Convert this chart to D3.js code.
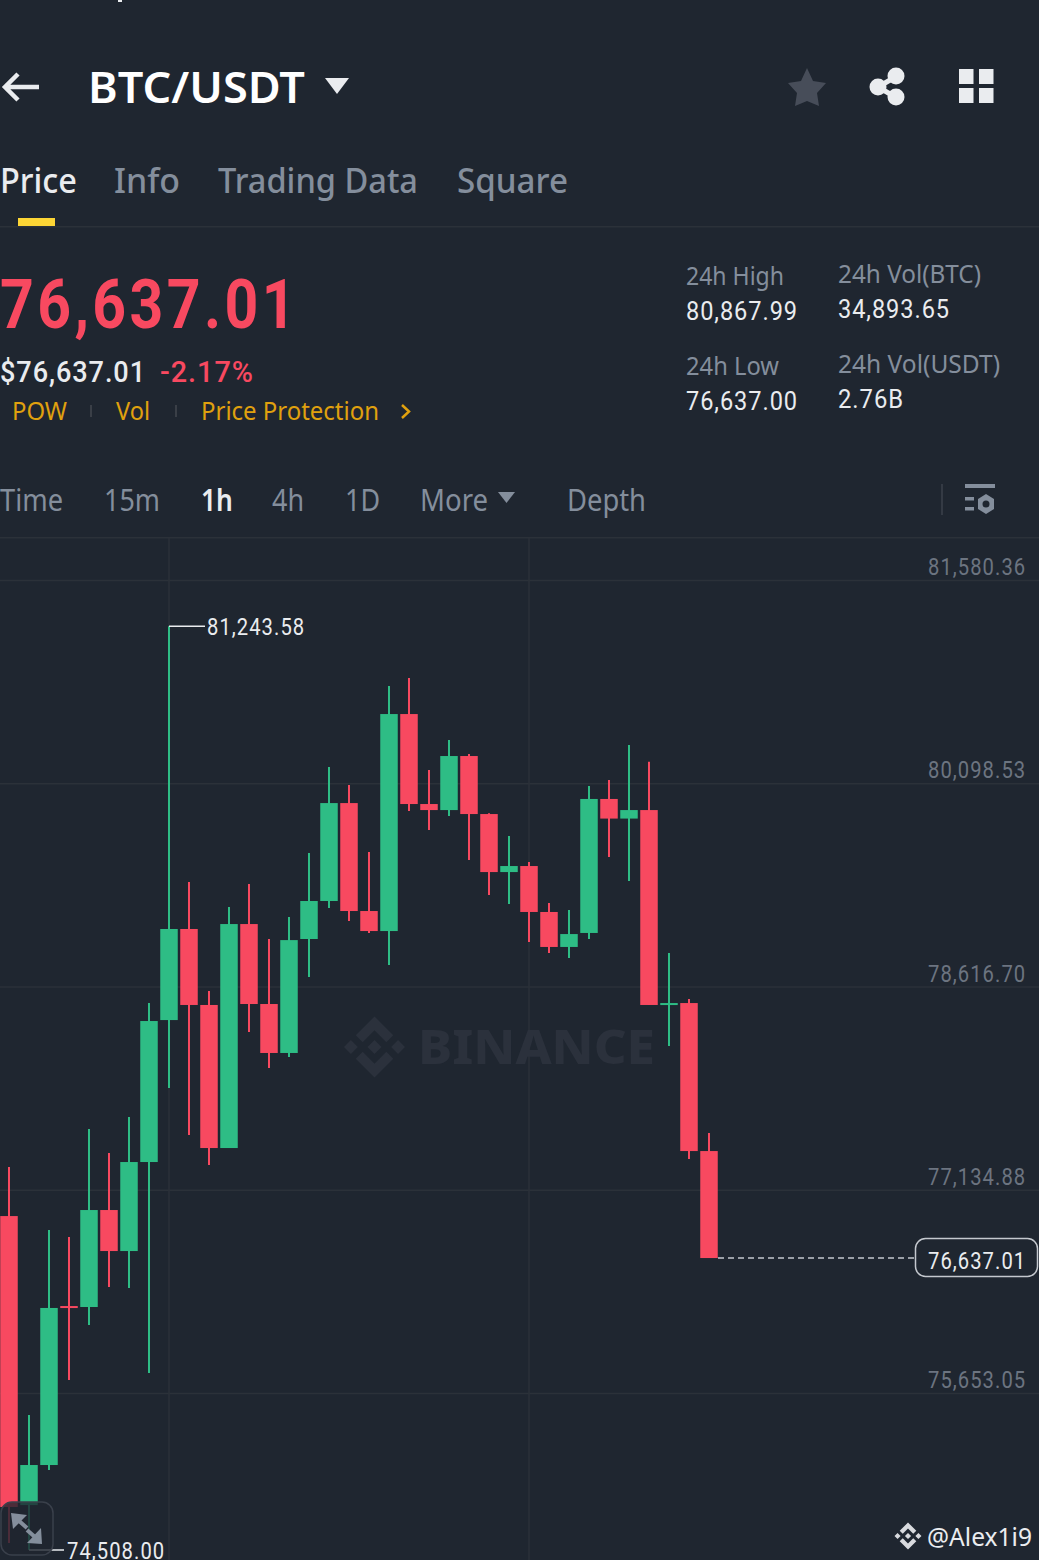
<!DOCTYPE html>
<html>
<head>
<meta charset="utf-8">
<script src="https://cdnjs.cloudflare.com/ajax/libs/d3/7.8.5/d3.min.js"></script>
<style>
  html, body { margin: 0; padding: 0; background: #1f2630; overflow: hidden; }
  svg { display: block; }
  text { font-family: "Noto Sans", sans-serif; }
</style>
</head>
<body>
<div id="chart"></div>
<script>
// hourly candles
var opens  = [76943,74836,75128,76287,76280,76987,76688,77337,78372,79036,78482,77439,79072,78489,78132,78963,79240,79954,79167,79021,80603,79947,79903,80297,79874,79451,79495,79160,78905,79007,79984,79841,79903,78482,78496,77417];
var highs  = [77301,75493,76841,76790,77578,77403,77665,78496,81243.58,79379,78584,79196,79364,78963,79123,79590,80217,80086,79597,80807,80866,80195,80414,80312,79880,79714,79524,79225,79174,80078,80122,80377,80256,78861,78525,77548];
var lows   = [74559,74508,75092,75748,76149,76426,76419,75799,77877,77534,77315,77439,78285,78022,78103,78686,79189,79094,79007,78773,79896,79757,79860,79539,79284,79218,78941,78861,78824,78963,79561,79386,78482,78183,77359,76637];
var closes = [74822,75128,76273,76273,76987,76688,77337,78365,79036,78482,77439,79072,78489,78132,78955,79240,79954,79167,79021,80603,79947,79903,80297,79874,79451,79495,79160,78905,78999,79984,79841,79903,78482,78496,77417,76637.01];
var ids = d3.range(opens.length);

var priceTicks = [81580.36, 80098.53, 78616.70, 77134.88, 75653.05];
var timeTicks = [8, 26];
var highIdx = 8, lowIdx = 1;
var lastPrice = 76637.01;

var tabNames = ["Price", "Info", "Trading Data", "Square"];
var intervalNames = ["Time", "15m", "1h", "4h", "1D", "More", "Depth"];
var tagNames = ["POW", "Vol", "Price Protection"];
var statLabels = ["24h High", "24h Vol(BTC)", "24h Low", "24h Vol(USDT)"];
var statValues = ["80,867.99", "34,893.65", "76,637.00", "2.76B"];

var W = 1039, H = 1560;
var bg = "#1f2630", grid = "#2b3139", white = "#eaecef", gray = "#848e9c", axisGray = "#6c7480";
var red = "#f84960", green = "#2ebd85", gold = "#e0a10e";
var logoPath = "M38.73 53.2l24.59-24.58 24.6 24.6 14.3-14.31L63.32 0 24.42 38.9l14.31 14.3zM0 63.31l14.3-14.31 14.31 14.31-14.31 14.3zM38.73 73.41l24.59 24.59 24.6-24.6 14.31 14.29-38.9 38.91-38.91-38.88-.02-.02zM97.89 63.31l14.3-14.3 14.31 14.3-14.31 14.3zM77.83 63.3L63.32 48.78 52.59 59.51l-1.24 1.23-2.54 2.54 14.51 14.5 14.51-14.47z";

var svg = d3.select("#chart").append("svg").attr("width", W).attr("height", H);
svg.append("rect").attr("width", W).attr("height", H).attr("fill", bg);

// text squeezed to the width it has in the picture
function label(str, x, y, w, size, color, weight){
  return svg.append("text")
    .attr("x", x).attr("y", y)
    .attr("font-size", size)
    .attr("font-weight", weight || 400)
    .attr("fill", color)
    .attr("textLength", w)
    .attr("lengthAdjust", "spacingAndGlyphs")
    .text(str);
}

// the numbers are a narrower, spaced out face in the picture
function number(str, x, y, w, size, color, weight, spacing){
  return label(str, x, y, w + spacing, size, color, weight)
    .style("font-family", "Roboto, sans-serif")
    .attr("letter-spacing", spacing);
}

function logo(cx, cy, width, color){
  var k = width / 126.61;
  svg.append("path").attr("d", logoPath).attr("fill", color)
    .attr("transform", "translate(" + (cx - width / 2) + "," + (cy - width / 2) + ") scale(" + k + ")");
}

/* ---- header ---- */
svg.append("rect").attr("x", 118).attr("y", 0).attr("width", 4).attr("height", 2).attr("fill", white);
svg.append("path").attr("d", "M39 87H6M18 74L5 87L18 100").attr("fill", "none").attr("stroke", white).attr("stroke-width", 4.5);
label("BTC/USDT", 88, 103, 217, 44, "#ffffff", 600);
svg.append("path").attr("d", "M325 78H349L337 94Z").attr("fill", white);
svg.append("path")
  .attr("d", "M807 68L813 81L826 83L817 93L819 106L807 101L795 106L797 93L788 83L801 81Z")
  .attr("fill", "#474d59");
svg.append("path").attr("d", "M897 76L878 87L897 98").attr("fill", "none").attr("stroke", white).attr("stroke-width", 5);
svg.selectAll("circle.share").data([[896, 76], [878, 87], [896, 97]]).enter().append("circle")
  .attr("class", "share").attr("cx", function(d){ return d[0]; }).attr("cy", function(d){ return d[1]; })
  .attr("r", 8.5).attr("fill", white);
svg.selectAll("rect.apps").data([[959, 69], [979, 69], [959, 88], [979, 88]]).enter().append("rect")
  .attr("class", "apps").attr("x", function(d){ return d[0]; }).attr("y", function(d){ return d[1]; })
  .attr("width", 14.5).attr("height", 15).attr("fill", white);

label(tabNames[0], 0, 193, 77, 34, white, 500);
label(tabNames[1], 114, 193, 66, 34, gray, 500);
label(tabNames[2], 218, 193, 200, 34, gray, 500);
label(tabNames[3], 457, 193, 111, 34, gray, 500);
svg.append("rect").attr("x", 18).attr("y", 218).attr("width", 37).attr("height", 8).attr("fill", "#fcd535");
svg.append("rect").attr("x", 0).attr("y", 226).attr("width", W).attr("height", 1.5).attr("fill", grid);

number("76,637.01", 0, 328, 295, 69, red, 700, 4);
number("$76,637.01", 0, 382, 145, 29, white, 500, 1);
number("-2.17%", 160, 382, 93, 29, red, 500, 1);
label(tagNames[0], 12, 420, 55, 25, gold);
label(tagNames[1], 116, 420, 34, 25, gold);
label(tagNames[2], 201, 420, 178, 25, gold);
svg.append("rect").attr("x", 90).attr("y", 405).attr("width", 2).attr("height", 12).attr("fill", "#3a3f47");
svg.append("rect").attr("x", 175).attr("y", 405).attr("width", 2).attr("height", 12).attr("fill", "#3a3f47");
svg.append("path").attr("d", "M402 405L409 411.5L402 418").attr("fill", "none").attr("stroke", gold).attr("stroke-width", 2.5);

label(statLabels[0], 686, 285, 98, 25, gray);
number(statValues[0], 686, 320, 111, 25, white, 400, 1);
label(statLabels[1], 838, 283, 143, 25, gray);
number(statValues[1], 838, 318, 111, 25, white, 400, 1);
label(statLabels[2], 686, 375, 93, 25, gray);
number(statValues[2], 686, 410, 111, 25, white, 400, 1);
label(statLabels[3], 838, 373, 162, 25, gray);
number(statValues[3], 838, 408, 65, 25, white, 400, 1);

label(intervalNames[0], 0, 511, 63, 30, gray);
label(intervalNames[1], 104, 511, 56, 30, gray);
label(intervalNames[2], 201, 511, 32, 30, white, 600);
label(intervalNames[3], 272, 511, 32, 30, gray);
label(intervalNames[4], 345, 511, 35, 30, gray);
label(intervalNames[5], 420, 511, 68, 30, gray);
svg.append("path").attr("d", "M498 492H515L506.5 503Z").attr("fill", gray);
label(intervalNames[6], 567, 511, 79, 30, gray);
svg.append("rect").attr("x", 941).attr("y", 484).attr("width", 2).attr("height", 31).attr("fill", "#343a44");
svg.append("rect").attr("x", 965).attr("y", 484).attr("width", 30).attr("height", 4).attr("fill", gray);
svg.append("rect").attr("x", 965).attr("y", 497).attr("width", 9).attr("height", 3.5).attr("fill", gray);
svg.append("rect").attr("x", 965).attr("y", 507).attr("width", 9).attr("height", 3.5).attr("fill", gray);
svg.append("path").attr("d", "M986 494L994 499V509L986 514L978 509V499Z M986 500.5A3.5 3.5 0 1 0 986 507.5A3.5 3.5 0 1 0 986 500.5Z")
  .attr("fill", gray).attr("fill-rule", "evenodd");

/* ---- chart ---- */
var x = d3.scaleBand().domain(ids).range([-1, 719]).paddingInner(0.125).paddingOuter(0.0625);
var y = d3.scaleLinear().domain([priceTicks[0], priceTicks[4]]).range([580, 1393]);
function cx(i){ return x(i) + x.bandwidth() / 2; }

svg.append("rect").attr("x", 0).attr("y", 537).attr("width", W).attr("height", 1.5).attr("fill", grid);

var yAxis = d3.axisRight(y).tickValues(priceTicks).tickSize(W).tickFormat(d3.format(",.2f"));
var gy = svg.append("g").call(yAxis);
gy.select(".domain").remove();
gy.selectAll("line").attr("stroke", grid).attr("stroke-width", 1.5);
gy.selectAll("text")
  .attr("x", 928).attr("dy", -5.5)
  .attr("font-size", 23).style("font-family", "Roboto, sans-serif")
  .attr("fill", axisGray)
  .attr("letter-spacing", 1.2)
  .attr("textLength", 98.2).attr("lengthAdjust", "spacingAndGlyphs");

var xAxis = d3.axisBottom(x).tickValues(timeTicks).tickSize(H - 538).tickFormat("");
var gx = svg.append("g").attr("transform", "translate(0,538)").call(xAxis);
gx.select(".domain").remove();
gx.selectAll("line").attr("stroke", grid).attr("stroke-width", 1.5);

// watermark
logo(374.5, 1047, 61, "#2b313c");
label("BINANCE", 418, 1064, 237, 48, "#2b313c", 800);

function candleColor(i){ return closes[i] >= opens[i] ? green : red; }

svg.append("g").selectAll("line").data(ids).enter().append("line")
  .attr("x1", cx).attr("x2", cx)
  .attr("y1", function(i){ return y(highs[i]); })
  .attr("y2", function(i){ return y(lows[i]); })
  .attr("stroke", candleColor).attr("stroke-width", 2);

svg.append("g").selectAll("rect").data(ids).enter().append("rect")
  .attr("x", function(i){ return x(i); })
  .attr("width", x.bandwidth())
  .attr("y", function(i){ return y(Math.max(opens[i], closes[i])); })
  .attr("height", function(i){ return Math.max(2, Math.abs(y(opens[i]) - y(closes[i]))); })
  .attr("fill", candleColor);

// high / low callouts
var fmt = d3.format(",.2f");
svg.append("line").attr("x1", cx(highIdx)).attr("x2", 205)
  .attr("y1", y(highs[highIdx])).attr("y2", y(highs[highIdx]))
  .attr("stroke", white).attr("stroke-width", 1.5);
number(fmt(highs[highIdx]), 207, y(highs[highIdx]) + 9, 97, 23, white, 400, 1.2);
svg.append("line").attr("x1", cx(lowIdx)).attr("x2", 64)
  .attr("y1", y(lows[lowIdx])).attr("y2", y(lows[lowIdx]))
  .attr("stroke", white).attr("stroke-width", 1.5);
number(fmt(lows[lowIdx]), 67, y(lows[lowIdx]) + 9, 97, 23, white, 400, 1.2);

// current price
svg.append("line").attr("x1", 718).attr("x2", 915)
  .attr("y1", y(lastPrice)).attr("y2", y(lastPrice))
  .attr("stroke", "#c4c8ce").attr("stroke-width", 1.5).attr("stroke-dasharray", "6 4");
svg.append("rect").attr("x", 915.5).attr("y", 1238.5).attr("width", 122).attr("height", 38).attr("rx", 10)
  .attr("fill", bg).attr("stroke", "#c4c8ce").attr("stroke-width", 1.5);
number(fmt(lastPrice), 928, 1269, 97, 23, white, 400, 1.2);

// expand button over the first candles
svg.append("rect").attr("x", 1).attr("y", 1502).attr("width", 52).attr("height", 53).attr("rx", 11)
  .attr("fill", bg).attr("fill-opacity", 0.8).attr("stroke", "#3a404b").attr("stroke-width", 1.5);
svg.append("path").attr("d", "M11 1513L27 1515L13 1529Z").attr("fill", gray);
svg.append("path").attr("d", "M18 1520L27 1528").attr("stroke", gray).attr("stroke-width", 4);
svg.append("path").attr("d", "M42 1544L27 1543L41 1528Z").attr("fill", gray);
svg.append("path").attr("d", "M35 1537L27 1530").attr("stroke", gray).attr("stroke-width", 4);

// credit
logo(908, 1536, 27, "#d8dade");
label("@Alex1i9", 927, 1546, 105, 26, white);
</script>
</body>
</html>
